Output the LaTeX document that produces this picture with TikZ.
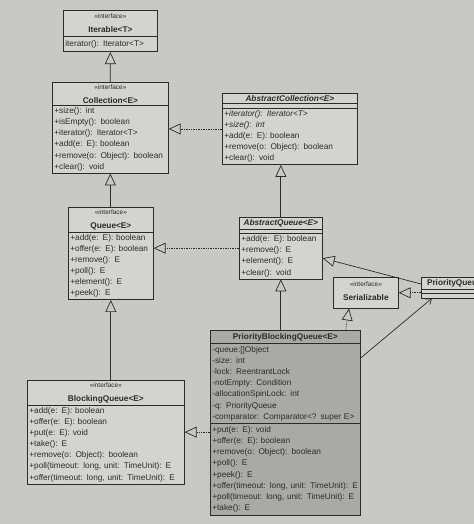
\documentclass[tikz,border=0pt]{standalone}
\usepackage{fontspec}
\setmainfont{Liberation Sans}
\usetikzlibrary{arrows.meta, positioning, shapes.multipart, calc}

\definecolor{paper}{HTML}{C8C8C5}
\definecolor{boxfill}{HTML}{D3D3D0}
\definecolor{darkfill}{HTML}{A9A9A6}
\definecolor{ink}{HTML}{2B2B2B}

\newcommand{\ifacehead}[1]{\centering\vspace*{1.5pt}%
  {\fontsize{6.5}{8}\selectfont «interface»\par}%
  {\fontsize{8.3}{12.5}\selectfont\textbf{#1}\par}\vspace{2.5pt}}
\newcommand{\classhead}[1]{\centering\textbf{#1}\par\vspace{1pt}}

\begin{document}
\begin{tikzpicture}[
  x=1bp, y=-1bp, line width=0.7pt,
  umlclass/.style = {draw=ink, fill=boxfill, text=ink, anchor=north west,
                     rectangle split, rectangle split parts=2,
                     rectangle split empty part height=2pt,
                     inner xsep=2pt, inner ysep=1.8pt, align=left,
                     font=\fontsize{8.3}{11.2}\selectfont},
  absclass/.style = {umlclass, rectangle split parts=3},
  inherit/.style  = {draw=ink, -{Triangle[open, length=12pt, width=11pt]}},
  realize/.style  = {inherit, densely dotted},
  assoc/.style    = {draw=ink, -{Straight Barb[length=5pt, width=7pt]}},
]
  \useasboundingbox (0,0) rectangle (474,524);
  \clip (0,0) rectangle (474,524);
  \fill[paper] (0,0) rectangle (474,524);

  % interfaces on the left
  \node[umlclass, text width=90bp, inner ysep=3.4pt] (iter) at (63,10)
    {\ifacehead{Iterable<T>}
     \nodepart{two}iterator(): Iterator<T>};
  \node[umlclass, text width=112bp] (coll) at (52,82)
    {\ifacehead{Collection<E>}
     \nodepart{two}+size(): int\\+isEmpty(): boolean\\+iterator(): Iterator<T>\\
     +add(e: E): boolean\\+remove(o: Object): boolean\\+clear(): void};
  \node[umlclass, text width=81bp] (queue) at (68,207)
    {\ifacehead{Queue<E>}
     \nodepart{two}+add(e: E): boolean\\+offer(e: E): boolean\\+remove(): E\\
     +poll(): E\\+element(): E\\+peek(): E};
  \node[umlclass, text width=153bp] (bq) at (27,380)
    {\ifacehead{BlockingQueue<E>}
     \nodepart{two}+add(e: E): boolean\\+offer(e: E): boolean\\+put(e: E): void\\
     +take(): E\\+remove(o: Object): boolean\\+poll(timeout: long, unit: TimeUnit): E\\
     +offer(timeout: long, unit: TimeUnit): E};

  % abstract classes
  \node[absclass, text width=131bp] (acoll) at (222,93)
    {\classhead{\textit{AbstractCollection<E>}}
     \nodepart{two}
     \nodepart{three}+\textit{iterator(): Iterator<T>}\\+\textit{size(): int}\\
     +add(e: E): boolean\\+remove(o: Object): boolean\\+clear(): void};
  \node[absclass, text width=79bp] (aqueue) at (239,217)
    {\classhead{\textit{AbstractQueue<E>}}
     \nodepart{two}
     \nodepart{three}+add(e: E): boolean\\+remove(): E\\+element(): E\\+clear(): void};

  % right hand side
  \node[umlclass, rectangle split parts=1, text width=61bp, inner ysep=4.5pt] (ser) at (333,277)
    {\ifacehead{Serializable}};
  \node[absclass, text width=62bp, rectangle split empty part height=6pt] (pq) at (421,277)
    {\classhead{PriorityQueue}
     \nodepart{two}
     \nodepart{three}};
  \node[absclass, fill=darkfill, text width=146bp, inner ysep=2.4pt] (pbq) at (210,330)
    {\classhead{PriorityBlockingQueue<E>}
     \nodepart{two}-queue:[]Object\\-size: int\\-lock: ReentrantLock\\
     -notEmpty: Condition\\-allocationSpinLock: int\\-q: PriorityQueue\\
     -comparator: Comparator<? super E>
     \nodepart{three}+put(e: E): void\\+offer(e: E): boolean\\
     +remove(o: Object): boolean\\+poll(): E\\+peek(): E\\
     +offer(timeout: long, unit: TimeUnit): E\\+poll(timeout: long, unit: TimeUnit): E\\
     +take(): E};

  % generalization and realization
  \draw[inherit] (coll.north) -- (iter.south);
  \draw[realize] (acoll.west) -- (coll.east |- acoll.west);
  \draw[inherit] (coll.south |- queue.north) -- (coll.south);
  \draw[inherit] (aqueue.north) -- (aqueue.north |- acoll.south);
  \draw[realize] (aqueue.west) -- (queue.east |- aqueue.west);
  \draw[inherit] (queue.south |- bq.north) -- (queue.south);
  \draw[realize] (pbq.west |- bq.east) -- (bq.east);
  \draw[inherit] (aqueue.south |- pbq.north) -- (aqueue.south);
  \draw[realize] ($(pbq.north east)+(-15,0)$) -- ($(ser.south west)+(16,0)$);
  \draw[inherit] ($(pq.north west)+(0,7)$) -- ($(aqueue.east)+(0,10)$);
  \draw[realize] (pq.west |- ser.east) -- (ser.east);

  % association
  \draw[assoc] ($(pbq.north east)+(0,28)$) -- ($(pq.south west)+(11,0)$);
\end{tikzpicture}
\end{document}
